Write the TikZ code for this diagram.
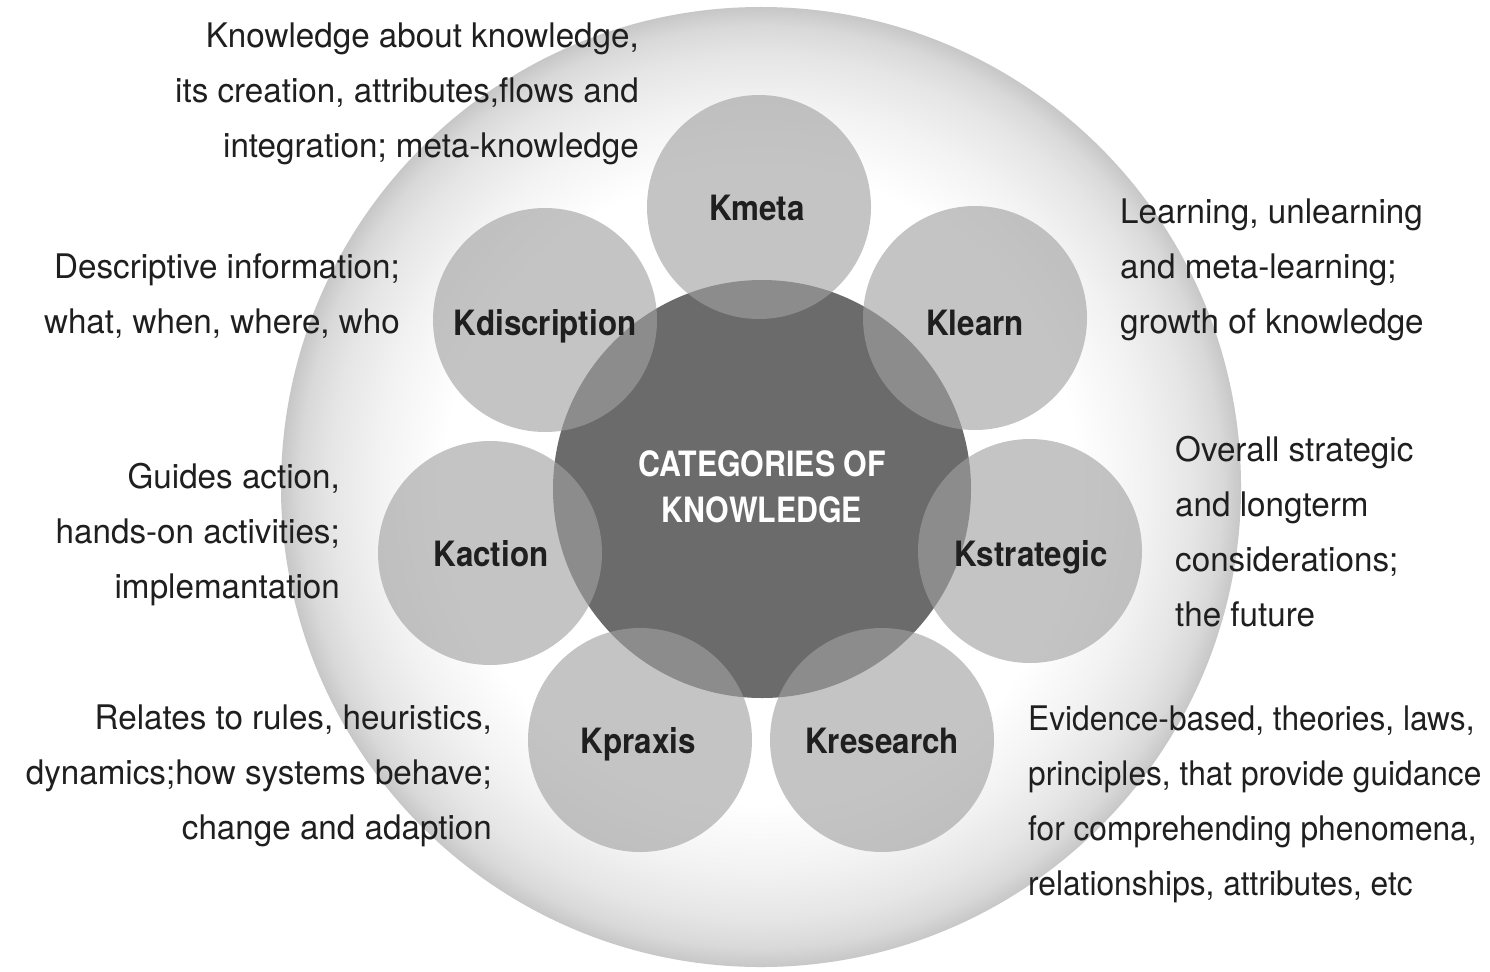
\documentclass[tikz,border=0pt]{standalone}
\usepackage{fontspec}
\setmainfont{TeX Gyre Heros}[FakeStretch=0.98]
\newfontfamily\narrowfont{TeX Gyre Heros}[FakeStretch=0.935]
\newfontfamily\lblfont{TeX Gyre Heros}[FakeStretch=0.9]
\newfontfamily\ctrfont{TeX Gyre Heros}[FakeStretch=0.87]
\definecolor{txt}{rgb}{0.12,0.12,0.12}
\definecolor{rimA}{rgb}{1,1,1}
\definecolor{rimB}{rgb}{0.95,0.95,0.95}
\definecolor{rimC}{rgb}{0.90,0.90,0.90}
\definecolor{rimD}{rgb}{0.85,0.85,0.85}
\definecolor{rimE}{rgb}{0.78,0.78,0.78}
\definecolor{smallc}{rgb}{0.63,0.63,0.63}
\definecolor{centerc}{rgb}{0.42,0.42,0.42}
\pgfdeclareradialshading{ringshade}{\pgfpointorigin}{color(0bp)=(rimA); color(16.5bp)=(rimA); color(20bp)=(rimB); color(22.5bp)=(rimC); color(24bp)=(rimD); color(25bp)=(rimE); color(50bp)=(rimE)}
\begin{document}
\begin{tikzpicture}[x=1bp,y=-1bp,
  desc/.style={font=\fontsize{34}{55}\selectfont, text=txt, inner sep=0pt},
  descn/.style={font=\narrowfont\fontsize{34}{55}\selectfont, text=txt, inner sep=0pt},
  lbl/.style={font=\lblfont\fontsize{35}{46}\selectfont\bfseries, text=txt, inner sep=0pt, anchor=base},
  ctext/.style={font=\ctrfont\fontsize{35}{46}\selectfont\bfseries, text=white, inner sep=0pt, anchor=base},
  petal/.style={circle, fill=smallc, fill opacity=0.62, minimum size=224bp, inner sep=0pt},
  corec/.style={circle, fill=centerc, minimum size=418bp, inner sep=0pt}]
\useasboundingbox (0,0) rectangle (1490,971);
\clip (0,0) rectangle (1490,971);
\fill[white] (0,0) rectangle (1490,971);
% outer shaded disc
\shade[shading=ringshade] (761,487) circle [radius=480bp];
% centre
\node[corec] (core) at (762,489) {};
% petals
\node[petal] (kmeta) at (759,207) {};
\node[petal] (kdisc) at (545,320) {};
\node[petal] (klearn) at (975,318) {};
\node[petal] (kaction) at (490,553) {};
\node[petal] (kstrat) at (1030,551) {};
\node[petal] (kpraxis) at (640,740) {};
\node[petal] (kresearch) at (882,740) {};
% petal labels
\node[lbl] (lmeta) at (757,220) {Kmeta};
\node[lbl] (ldisc) at (545,335) {Kdiscription};
\node[lbl] (llearn) at (975,335) {Klearn};
\node[lbl] (laction) at (491,566) {Kaction};
\node[lbl] (lstrat) at (1031,566) {Kstrategic};
\node[lbl] (lpraxis) at (638,753) {Kpraxis};
\node[lbl] (lresearch) at (882,753) {Kresearch};
% centre text
\node[ctext] (c1) at (762,476) {CATEGORIES OF};
\node[ctext] (c2) at (762,522) {KNOWLEDGE};
% descriptions left
\foreach \t [count=\i from 0] in {{Knowledge about knowledge,},{its creation, attributes,flows and},{integration; meta-knowledge}}
  \node[desc, anchor=base east] (tl\i) at (639,47+55*\i) {\t};
\foreach \t [count=\i from 0] in {{Descriptive information;},{what, when, where, who}}
  \node[desc, anchor=base east] (dl\i) at (400,278+55*\i) {\t};
\foreach \t [count=\i from 0] in {{Guides action,},{hands-on activities;},{implemantation}}
  \node[desc, anchor=base east] (al\i) at (340,488+55*\i) {\t};
\foreach \t [count=\i from 0] in {{Relates to rules, heuristics,},{dynamics;how systems behave;},{change and adaption}}
  \node[desc, anchor=base east] (pl\i) at (492,729+55*\i) {\t};
% descriptions right
\foreach \t [count=\i from 0] in {{Learning, unlearning},{and meta-learning;},{growth of knowledge}}
  \node[desc, anchor=base west] (lr\i) at (1120,223+55*\i) {\t};
\foreach \t [count=\i from 0] in {{Overall strategic},{and longterm},{considerations;},{the future}}
  \node[desc, anchor=base west] (sr\i) at (1175,461+55*\i) {\t};
\foreach \t [count=\i from 0] in {{Evidence-based, theories, laws,},{principles, that provide guidance},{for comprehending phenomena,},{relationships, attributes, etc}}
  \node[descn, anchor=base west] (rr\i) at (1028,730+55*\i) {\t};
\end{tikzpicture}
\end{document}
